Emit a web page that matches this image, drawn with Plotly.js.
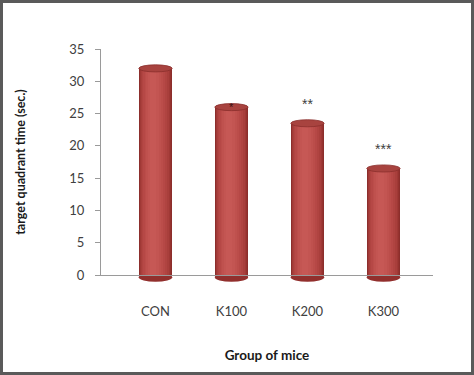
<!DOCTYPE html>
<html>
<head>
<meta charset="utf-8">
<script src="https://cdn.plot.ly/plotly-3.0.1.min.js"></script>
<style>
html,body{margin:0;padding:0;background:#fff;}
#frame{width:474px;height:375px;box-sizing:border-box;border:3px solid #5a5a5a;background:#fff;}
#chart{width:468px;height:369px;}
</style>
</head>
<body>
<div id="frame"><div id="chart"></div></div>
<script>
// ---- data ----
const categories = ["CON", "K100", "K200", "K300"];
const values = [32, 26, 23.5, 16.5];
const significance = ["", "*", "**", "***"];
const yTicks = [0, 5, 10, 15, 20, 25, 30, 35];

// ---- styling (cylinder shading layers) ----
const layerW = [0.44, 0.42, 0.395, 0.365, 0.33, 0.29, 0.245, 0.195, 0.14, 0.08];
const layerC = ["#8c2e2c", "#96332f", "#a03936", "#a93f3c", "#b04441", "#b64846", "#bb4d4a", "#bf514e", "#c35552", "#c65855"];
const layerOff = [0, 0, -0.004, -0.008, -0.012, -0.016, -0.02, -0.024, -0.028, -0.03];
const idx = categories.map((_, i) => i);

const traces = layerW.map((w, k) => ({
  type: "bar",
  x: idx,
  y: values,
  width: w,
  offset: -w / 2 + layerOff[k],
  marker: {color: layerC[k], line: {width: 0}},
  hoverinfo: "skip",
  showlegend: false
}));

const shapes = [];
values.forEach((v, i) => {
  shapes.push({type: "circle", xref: "x", yref: "y",
    x0: i - 0.22, x1: i + 0.22, y0: v - 0.55, y1: v + 0.55,
    fillcolor: "#a8433f", line: {color: "#8a2e2c", width: 0.8}, layer: "above"});
  shapes.push({type: "circle", xref: "x", yref: "paper",
    x0: i - 0.22, x1: i + 0.22, y0: -0.03, y1: 0.01,
    fillcolor: "#922f2d", line: {width: 0}, layer: "below"});
});

const annotations = values.map((v, i) => ({
  x: i, y: v + (i === 1 ? 0 : 3.0), xref: "x", yref: "y",
  text: significance[i], showarrow: false,
  font: {family: "'Liberation Sans', Arial, sans-serif", size: i === 1 ? 11 : 14, color: i === 1 ? "#3a1010" : "#404040"}
}));

const layout = {
  width: 468, height: 369,
  margin: {l: 98, r: 38, t: 46, b: 97},
  paper_bgcolor: "#fff", plot_bgcolor: "#fff",
  barmode: "overlay",
  bargap: 0,
  font: {family: "Lato, 'Open Sans', sans-serif", color: "#404040", size: 13},
  xaxis: {
    type: "linear",
    range: [-0.717, 3.652],
    tickmode: "array",
    tickvals: idx,
    ticktext: categories,
    showgrid: false, zeroline: false,
    showline: true, linecolor: "#9a9a9a", linewidth: 1,
    ticks: "", ticklabelstandoff: 24,
    tickfont: {size: 13, color: "#404040"},
    title: {text: "Group of mice", font: {size: 13.5, color: "#1a1a1a", weight: "bold"}, standoff: 32}
  },
  yaxis: {
    range: [0, 35],
    tickmode: "array",
    tickvals: yTicks,
    showgrid: false, zeroline: false,
    showline: true, linecolor: "#9a9a9a", linewidth: 1,
    ticks: "outside", ticklen: 5, tickcolor: "#9a9a9a",
    ticklabelstandoff: 8,
    tickfont: {size: 13, color: "#404040"},
    title: {text: "target quadrant time (sec.)", font: {size: 12.5, color: "#1a1a1a", weight: "bold"}, standoff: 40}
  },
  shapes: shapes,
  annotations: annotations,
  showlegend: false
};

Plotly.newPlot("chart", traces, layout, {displayModeBar: false, staticPlot: true});
</script>
</body>
</html>
